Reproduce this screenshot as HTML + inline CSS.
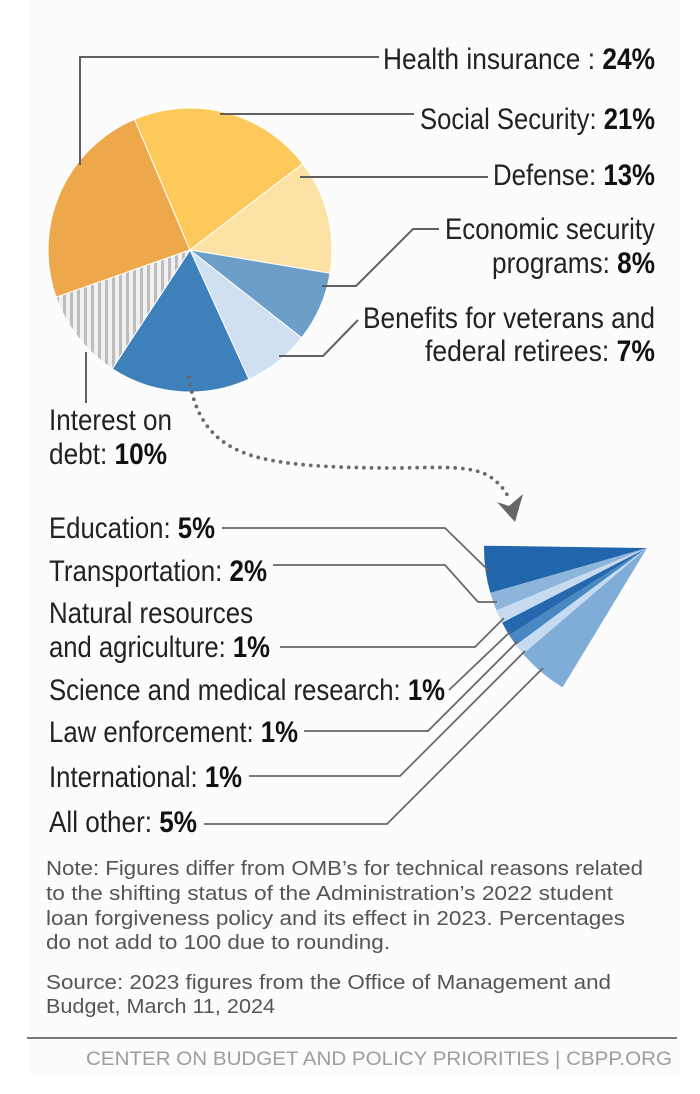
<!DOCTYPE html>
<html>
<head>
<meta charset="utf-8">
<style>
  html, body { margin: 0; padding: 0; background: #ffffff; }
  body { width: 700px; height: 1094px; overflow: hidden; }
  svg { display: block; }
  .lbl { font-family: "Liberation Sans", sans-serif; font-size: 30px; fill: #222; }
  .lbl .b { font-weight: bold; fill: #111; }
  .note { font-family: "Liberation Sans", sans-serif; font-size: 20px; fill: #555; }
  .foot { font-family: "Liberation Sans", sans-serif; font-size: 19px; fill: #9d9d9d; }
  .lead { fill: none; stroke: #606060; stroke-width: 2; stroke-linejoin: miter; }
  .lead2 { fill: none; stroke: #666; stroke-width: 1.7; }
</style>
</head>
<body>
<svg width="700" height="1094" viewBox="0 0 700 1094" xmlns="http://www.w3.org/2000/svg">
  <defs>
    <pattern id="stripes" patternUnits="userSpaceOnUse" width="7" height="10">
      <rect x="0" y="0" width="7" height="10" fill="#f0f0f0"/>
      <rect x="0" y="0" width="3" height="10" fill="#bdbdbd"/>
    </pattern>
  </defs>

  <rect x="30" y="0" width="650" height="1078" fill="#fcfcfc"/>

  <!-- Main pie -->
  <g stroke="#ffffff" stroke-width="1">
    <path d="M190,250 L56.1,297.2 A142,142 0 0 1 134.5,119.3 Z" fill="#eda84c"/>
    <path d="M190,250 L134.5,119.3 A142,142 0 0 1 302.8,163.7 Z" fill="#fdc95a"/>
    <path d="M190,250 L302.8,163.7 A142,142 0 0 1 330.1,273.2 Z" fill="#fde2a6"/>
    <path d="M190,250 L330.1,273.2 A142,142 0 0 1 301.6,337.8 Z" fill="#6b9fc9"/>
    <path d="M190,250 L301.6,337.8 A142,142 0 0 1 248.9,379.2 Z" fill="#cfe1f1"/>
    <path d="M190,250 L248.9,379.2 A142,142 0 0 1 112.2,368.8 Z" fill="#3e80b9"/>
    <path d="M190,250 L112.2,368.8 A142,142 0 0 1 56.1,297.2 Z" fill="url(#stripes)"/>
  </g>

  <!-- Leader lines (top) -->
  <polyline class="lead" points="80,165 80,57 379,57"/>
  <polyline class="lead" points="220,114 414,114"/>
  <polyline class="lead" points="300,177 488,177"/>
  <polyline class="lead" points="322,286 356,286 413,229 439,229"/>
  <polyline class="lead" points="279,356 323,356 358,320"/>
  <polyline class="lead" points="86,352 86,403"/>

  <!-- Right labels -->
  <text class="lbl" x="383" y="69" textLength="272" lengthAdjust="spacingAndGlyphs">Health insurance : <tspan class="b">24%</tspan></text>
  <text class="lbl" x="420" y="129" textLength="235" lengthAdjust="spacingAndGlyphs">Social Security: <tspan class="b">21%</tspan></text>
  <text class="lbl" x="493" y="185" textLength="162" lengthAdjust="spacingAndGlyphs">Defense: <tspan class="b">13%</tspan></text>
  <text class="lbl" x="445" y="239" textLength="210" lengthAdjust="spacingAndGlyphs">Economic security</text>
  <text class="lbl" x="492" y="273" textLength="163" lengthAdjust="spacingAndGlyphs">programs: <tspan class="b">8%</tspan></text>
  <text class="lbl" x="363" y="328" textLength="292" lengthAdjust="spacingAndGlyphs">Benefits for veterans and</text>
  <text class="lbl" x="425" y="361" textLength="230" lengthAdjust="spacingAndGlyphs">federal retirees: <tspan class="b">7%</tspan></text>

  <!-- Interest on debt -->
  <text class="lbl" x="49" y="430" textLength="123" lengthAdjust="spacingAndGlyphs">Interest on</text>
  <text class="lbl" x="49" y="464" textLength="118" lengthAdjust="spacingAndGlyphs">debt: <tspan class="b">10%</tspan></text>

  <!-- Dotted arrow -->
  <path d="M189,377 C195,420 215,450 270,460 C300,466 340,468 400,468 C450,467 475,466 492,478 C502,486 507,493 509,499"
        fill="none" stroke="#6b6b6b" stroke-width="3.8" stroke-linecap="round" stroke-dasharray="0 7.6"/>
  <path d="M497,502 L515,522 L523,494 L509,506 Z" fill="#666"/>

  <!-- Fan (sub-slices of 16%) -->
  <path d="M647,548 L484,545.7 A163,163 0 0 0 490.3,592.9 Z" fill="#2166ac"/>
  <path d="M647,548 L490.3,592.9 A163,163 0 0 0 496.4,610.4 Z" fill="#8db4db"/>
  <path d="M647,548 L496.4,610.4 A163,163 0 0 0 502.2,622.8 Z" fill="#c6dbef"/>
  <path d="M647,548 L502.2,622.8 A163,163 0 0 0 509.2,635.1 Z" fill="#2468ae"/>
  <path d="M647,548 L509.2,635.1 A163,163 0 0 0 516,645 Z" fill="#4a88c4"/>
  <path d="M647,548 L516,645 A163,163 0 0 0 523.1,653.9 Z" fill="#c6dbef"/>
  <path d="M647,548 L523.1,653.9 A163,163 0 0 0 562.6,687.4 Z" fill="#80acd8"/>

  <!-- Lower leader lines -->
  <polyline class="lead2" points="222,528 445,528 489,571"/>
  <polyline class="lead2" points="273,565 445,565 478,602 497,602"/>
  <polyline class="lead2" points="280,647 475,647 504,618"/>
  <polyline class="lead2" points="449,690 511,631"/>
  <polyline class="lead2" points="304,731 428,731 518,641"/>
  <polyline class="lead2" points="249,776 400,776 525,651"/>
  <polyline class="lead2" points="204,824 387,824 543,668"/>

  <!-- Lower labels -->
  <text class="lbl" x="49" y="538" textLength="166" lengthAdjust="spacingAndGlyphs">Education: <tspan class="b">5%</tspan></text>
  <text class="lbl" x="49" y="581" textLength="218" lengthAdjust="spacingAndGlyphs">Transportation: <tspan class="b">2%</tspan></text>
  <text class="lbl" x="49" y="623" textLength="204" lengthAdjust="spacingAndGlyphs">Natural resources</text>
  <text class="lbl" x="49" y="657" textLength="221" lengthAdjust="spacingAndGlyphs">and agriculture: <tspan class="b">1%</tspan></text>
  <text class="lbl" x="49" y="700" textLength="396" lengthAdjust="spacingAndGlyphs">Science and medical research: <tspan class="b">1%</tspan></text>
  <text class="lbl" x="49" y="742" textLength="249" lengthAdjust="spacingAndGlyphs">Law enforcement: <tspan class="b">1%</tspan></text>
  <text class="lbl" x="49" y="787" textLength="193" lengthAdjust="spacingAndGlyphs">International: <tspan class="b">1%</tspan></text>
  <text class="lbl" x="49" y="832" textLength="148" lengthAdjust="spacingAndGlyphs">All other: <tspan class="b">5%</tspan></text>

  <!-- Notes -->
  <text class="note" x="46" y="875" textLength="597" lengthAdjust="spacingAndGlyphs">Note: Figures differ from OMB’s for technical reasons related</text>
  <text class="note" x="46" y="900" textLength="567" lengthAdjust="spacingAndGlyphs">to the shifting status of the Administration’s 2022 student</text>
  <text class="note" x="46" y="925" textLength="579" lengthAdjust="spacingAndGlyphs">loan forgiveness policy and its effect in 2023. Percentages</text>
  <text class="note" x="46" y="949" textLength="344" lengthAdjust="spacingAndGlyphs">do not add to 100 due to rounding.</text>
  <text class="note" x="46" y="989" textLength="565" lengthAdjust="spacingAndGlyphs">Source: 2023 figures from the Office of Management and</text>
  <text class="note" x="46" y="1013" textLength="229" lengthAdjust="spacingAndGlyphs">Budget, March 11, 2024</text>

  <!-- Footer -->
  <line x1="27" y1="1038" x2="677" y2="1038" stroke="#777" stroke-width="2"/>
  <text class="foot" x="86" y="1065" textLength="586" lengthAdjust="spacingAndGlyphs">CENTER ON BUDGET AND POLICY PRIORITIES | CBPP.ORG</text>
</svg>
</body>
</html>
